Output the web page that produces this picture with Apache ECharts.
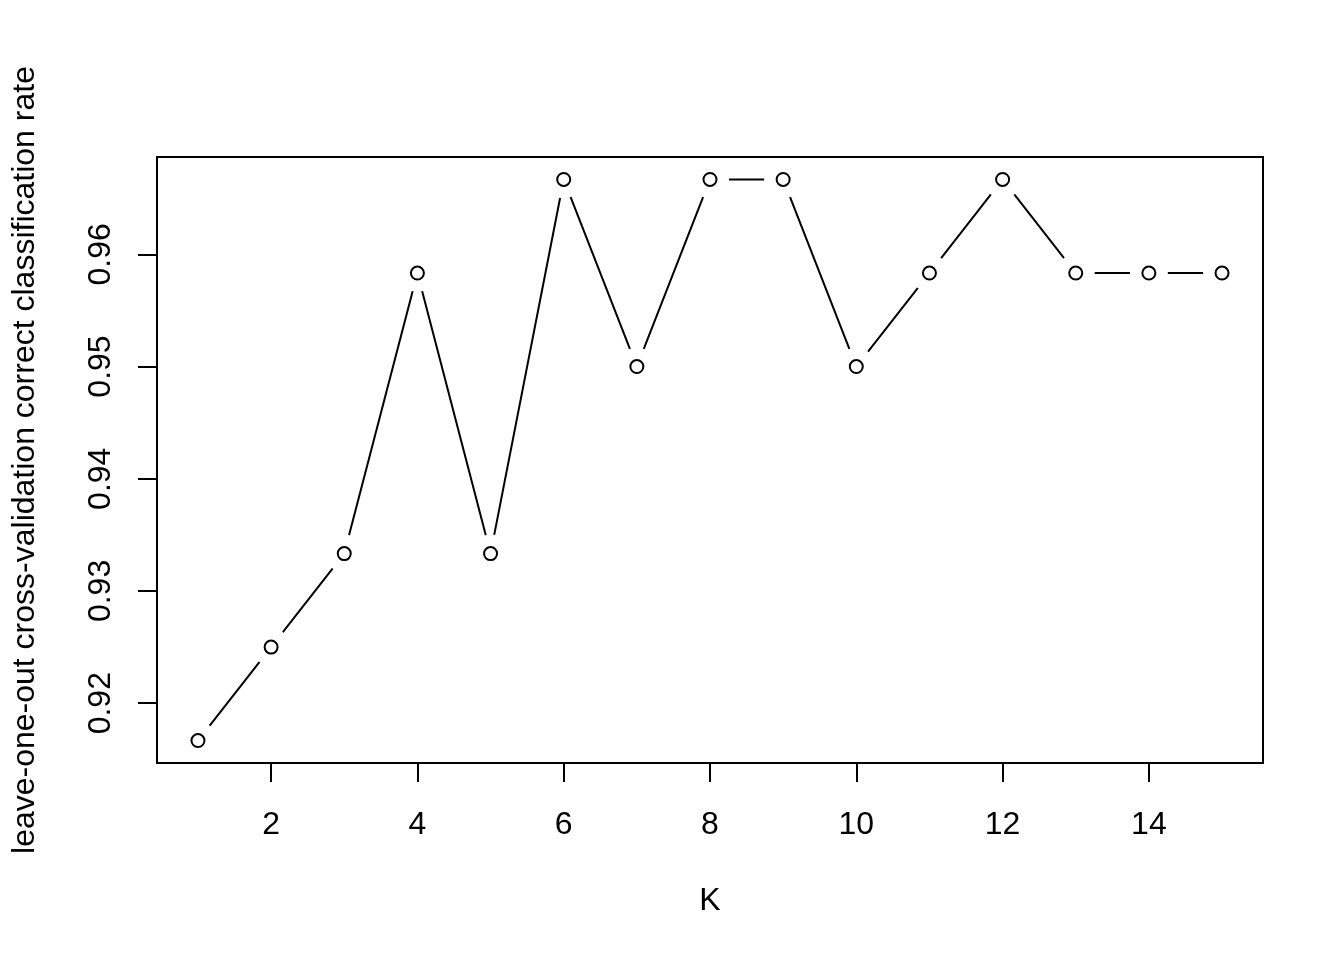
<!DOCTYPE html>
<html>
<head>
<meta charset="utf-8">
<script src="https://cdn.jsdelivr.net/npm/echarts@6/dist/echarts.min.js"></script>
<style>
  html, body { margin: 0; padding: 0; background: #fff; }
  #chart { width: 1344px; height: 960px; }
</style>
</head>
<body>
<div id="chart"></div>
<script>
// K values and leave-one-out correct classification rates
const kValues = [1, 2, 3, 4, 5, 6, 7, 8, 9, 10, 11, 12, 13, 14, 15];
const cvRate = [0.91667, 0.925, 0.93333, 0.95833, 0.93333, 0.96667, 0.95, 0.96667,
                0.96667, 0.95, 0.95833, 0.96667, 0.95833, 0.95833, 0.95833];
const xTicks = [2, 4, 6, 8, 10, 12, 14];
const yTicks = [0.92, 0.93, 0.94, 0.95, 0.96];

function initChart() {
    const chartDom = document.getElementById('chart');
    const myChart = echarts.init(chartDom);
    const pts = kValues.map((k, i) => [k, cvRate[i]]);
    const font = 'Liberation Sans, Arial, sans-serif';

    myChart.setOption({
        animation: false,
        grid: {
            left: 157, right: 81, top: 157, bottom: 197,
            show: true, borderColor: '#000', borderWidth: 2, backgroundColor: 'transparent'
        },
        xAxis: {
            type: 'value', min: 0.44, max: 15.56,
            name: 'K', nameLocation: 'middle', nameGap: 122,
            nameTextStyle: { color: '#000', fontSize: 32, fontFamily: font },
            axisLine: { show: false },
            splitLine: { show: false },
            axisTick: { show: true, inside: false, length: 19, customValues: xTicks,
                        lineStyle: { color: '#000', width: 2 } },
            axisLabel: { customValues: xTicks, color: '#000', fontSize: 32, fontFamily: font, margin: 46 }
        },
        yAxis: {
            type: 'value', min: 0.91467, max: 0.96867,
            name: 'leave-one-out cross-validation correct classification rate',
            nameLocation: 'middle', nameGap: 116,
            nameTextStyle: { color: '#000', fontSize: 32, fontFamily: font },
            axisLine: { show: false },
            splitLine: { show: false },
            axisTick: { show: true, inside: false, length: 19, customValues: yTicks,
                        lineStyle: { color: '#000', width: 2 } },
            axisLabel: { customValues: yTicks, rotate: 90, color: '#000', fontSize: 32, fontFamily: font, margin: 40,
                         formatter: v => v.toFixed(2) }
        },
        series: [
            {
                // line with white discs to leave gaps around the points (R type = "b")
                type: 'line', data: pts,
                symbol: 'circle', symbolSize: 38,
                itemStyle: { color: '#fff', borderWidth: 0 },
                lineStyle: { color: '#000', width: 2 },
                z: 2
            },
            {
                type: 'scatter', data: pts,
                symbol: 'circle', symbolSize: 13,
                itemStyle: { color: '#fff', borderColor: '#000', borderWidth: 2, opacity: 1 },
                z: 3
            }
        ]
    });
}

document.addEventListener('DOMContentLoaded', initChart);
</script>
</body>
</html>
